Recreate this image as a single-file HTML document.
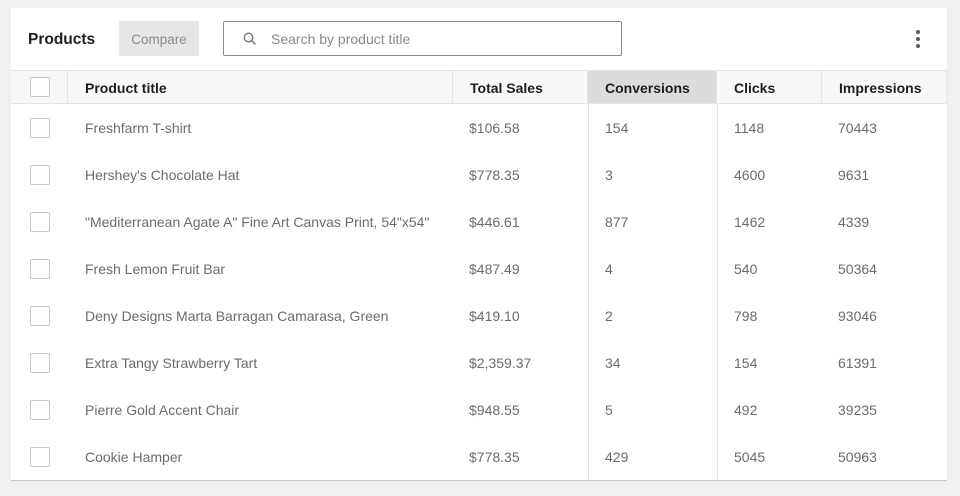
<!DOCTYPE html>
<html><head><meta charset="utf-8"><style>
*{box-sizing:border-box;margin:0;padding:0}
body{width:960px;height:496px;background:#f0f0f0;font-family:"Liberation Sans",sans-serif;position:relative;overflow:hidden}
.card{position:absolute;left:11px;top:8px;width:936px;height:473px;background:#fff;border-bottom:1px solid #c8c8c8}
.abs{position:absolute}
.title{left:17px;top:23px;font-size:15.5px;font-weight:bold;color:#1e1e1e}
.compare{left:108px;top:13px;width:80px;height:35px;background:#e6e6e6;color:#8a8a8a;font-size:13.5px;line-height:37px;text-align:center}
.search{left:212px;top:13px;width:399px;height:35px;border:1px solid #8a8a8a;border-radius:2px;color:#8a8a8a;font-size:14px;line-height:35px;padding-left:47px}
.dot{width:4px;height:4px;border-radius:2px;background:#555d66;left:905px}
.head{left:0;top:62px;width:936px;height:34px;background:#f7f8f8;border-top:1px solid #e4e4e4;border-bottom:1px solid #e4e4e4}
.th{position:absolute;top:0;height:32px;line-height:34px;font-size:14px;font-weight:bold;color:#1e1e1e;padding-left:17px;border-right:1px solid #e4e4e4}
.cb{position:absolute;width:20px;height:20px;border:1px solid #c8c8c8;border-radius:2px;background:#fff;left:19px}
.td{position:absolute;font-size:14px;color:#6c6c6c;line-height:16px}
.vl{position:absolute;top:96px;width:1px;height:376px;background:#e8e8e8}
</style></head><body>
<div class="card">
<div class="abs title">Products</div>
<div class="abs compare">Compare</div>
<div class="abs search">
<svg class="abs" style="left:19px;top:10px" width="14" height="14" viewBox="0 0 14 14"><circle cx="5.5" cy="5.5" r="4.3" fill="none" stroke="#777" stroke-width="1.4"/><line x1="8.6" y1="8.6" x2="12.5" y2="12.5" stroke="#777" stroke-width="1.4"/></svg>Search by product title</div>
<div class="abs dot" style="top:22px"></div>
<div class="abs dot" style="top:29px"></div>
<div class="abs dot" style="top:36px"></div>
<div class="abs head">
<div class="th" style="left:0;width:57px"><div class="cb" style="top:6px"></div></div>
<div class="th" style="left:57px;width:385px">Product title</div>
<div class="th" style="left:442px;width:135px">Total Sales</div>
<div class="th" style="left:577px;width:129px;background:#dcdcdc">Conversions</div>
<div class="th" style="left:706px;width:105px">Clicks</div>
<div class="th" style="left:811px;width:125px">Impressions</div>
</div>
<div class="vl" style="left:577px"></div>
<div class="vl" style="left:706px"></div>
<div id="rows"></div>
</div>
<script>
const titles=["Freshfarm T-shirt","Hershey's Chocolate Hat","\"Mediterranean Agate A\" Fine Art Canvas Print, 54\"x54\"","Fresh Lemon Fruit Bar","Deny Designs Marta Barragan Camarasa, Green","Extra Tangy Strawberry Tart","Pierre Gold Accent Chair","Cookie Hamper"];
const sales=["$106.58","$778.35","$446.61","$487.49","$419.10","$2,359.37","$948.55","$778.35"];
const conversions=[154,3,877,4,2,34,5,429];
const clicks=[1148,4600,1462,540,798,154,492,5045];
const impressions=[70443,9631,4339,50364,93046,61391,39235,50963];
const rows=document.getElementById('rows');
const cols=[[74,titles,'product-title'],[458,sales,'total-sales'],[594,conversions,'conversions'],[723,clicks,'clicks'],[827,impressions,'impressions']];
titles.forEach((t,i)=>{
 const y=96+i*47;
 const r=document.createElement('div');r.style.cssText='position:absolute;left:0;top:'+y+'px;width:936px;height:47px';
 
 
 const cb=document.createElement('div');cb.className='cb';cb.style.top='14px';
 
 
 r.appendChild(cb);
 cols.forEach(c=>{
  const d=document.createElement('div');d.className='td';d.style.left=c[0]+'px';d.style.top='16px';d.textContent=c[1][i];
  
  
  r.appendChild(d);
 });
 rows.appendChild(r);
});
</script>
</body></html>
